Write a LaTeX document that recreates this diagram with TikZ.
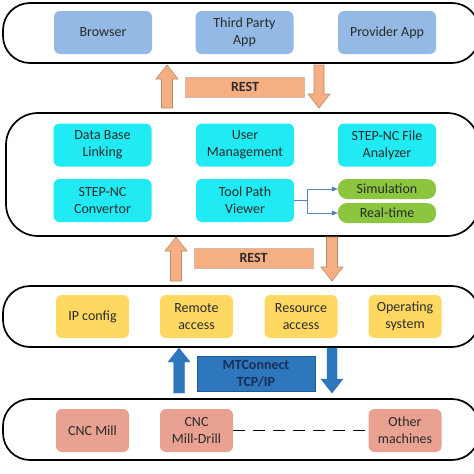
\documentclass[tikz,border=0pt]{standalone}
\usepackage{fontspec}
\setmainfont{Carlito}
\usepackage{tikz}
\usetikzlibrary{arrows.meta}

\definecolor{appblue}{HTML}{93B9E4}
\definecolor{srvcyan}{HTML}{20EAF3}
\definecolor{viewgreen}{HTML}{8CC63F}
\definecolor{ctlyellow}{HTML}{FFD862}
\definecolor{machsalmon}{HTML}{E9A191}
\definecolor{restorange}{HTML}{F5AF82}
\definecolor{restedge}{HTML}{B98A6E}
\definecolor{mtcblue}{HTML}{2E77BD}
\definecolor{mtcedge}{HTML}{1F5A94}
\definecolor{mtctext}{HTML}{1A2E55}
\definecolor{txt}{HTML}{2B2B2B}
\definecolor{linkblue}{HTML}{5B82BA}

\begin{document}
\begin{tikzpicture}
[x=1pt,y=-1pt,font=\fontsize{14}{17}\selectfont,text=txt]
\tikzset{layer/.style={draw=black,line width=1.7pt},
  box/.style={rounded corners=6pt,align=center,inner sep=0pt,minimum width=98pt,minimum height=43pt},
  appbox/.style={box,fill=appblue},
  srvbox/.style={box,fill=srvcyan},
  viewbox/.style={box,fill=viewgreen,rounded corners=9pt,minimum height=20pt},
  ctlbox/.style={box,fill=ctlyellow,minimum width=73pt},
  machbox/.style={box,fill=machsalmon,minimum width=73pt},
  restbox/.style={fill=restorange,draw=restedge!60,line width=.4pt,inner sep=0pt,minimum width=119pt,minimum height=20pt,font=\fontsize{14}{17}\selectfont\bfseries},
  mtcbox/.style={fill=mtcblue,draw=mtcedge,line width=.4pt,inner sep=0pt,align=center,minimum width=118pt,minimum height=35pt,text=mtctext,font=\fontsize{14}{17}\selectfont\bfseries},
  orablock/.style={fill=restorange,draw=restedge,line width=.6pt},
  mtcblock/.style={fill=mtcblue,draw=mtcblue}}

\useasboundingbox (0,0) rectangle (474,474);
\clip (0,0) rectangle (474,474);

% layers
\foreach \l/\t/\b/\r in {3/3/63/27,6/113/236/32,3/286/347/27,3/399/460/27}
  \draw [layer] (\l+\r,\t) -- (479-\r,\t) arc (270:360:\r) -- (479,\b-\r) arc (0:90:\r)
    -- (\l+\r,\b) arc (90:180:\r) -- (\l,\t+\r) arc (180:270:\r) -- cycle;

% clients
\node [appbox] (browser) at (103,32.5) {Browser};
\node [appbox] (third) at (244.5,32.5) {Third Party\\App};
\node [appbox] (provider) at (387,32.5) {Provider App};

% server
\node [srvbox] (dblink) at (102.5,145) {Data Base\\Linking};
\node [srvbox] (usermgmt) at (245,145) {User\\Management};
\node [srvbox] (analyzer) at (387,145) {STEP-NC File\\Analyzer};
\node [srvbox] (convertor) at (102.5,200.5) {STEP-NC\\Convertor};
\node [srvbox] (viewer) at (245,200.5) {Tool Path\\Viewer};
\node [viewbox] (sim) at (387,189) {Simulation};
\node [viewbox] (realtime) at (387,213) {Real-time};

% controller
\node [ctlbox] (ipcfg) at (92.5,316.5) {IP config};
\node [ctlbox] (remote) at (196.5,316.5) {Remote\\access};
\node [ctlbox] (resource) at (301,316.5) {Resource\\access};
\node [ctlbox] (os) at (405,316.5) {Operating\\system};

% machines
\node [machbox] (mill) at (92.5,430.5) {CNC Mill};
\node [machbox] (milldrill) at (196.5,430.5) {CNC\\Mill-Drill};
\node [machbox] (other) at (405,430.5) {Other\\machines};

% protocols
\node [restbox] (rest1) at (245,87) {REST};
\node [restbox] (rest2) at (253.5,258) {REST};
\node [mtcbox] (mtc) at (256,373.5) {MTConnect\\TCP/IP};

% block arrows
\foreach \x/\ya/\yb/\w/\c in {167/108/65/5.5/orablock,319/65/108/5/orablock,
  176/281/237/5.5/orablock,332/237/281/5.5/orablock,
  179/393/348/5.5/mtcblock,332/348/393/5/mtcblock}
{
  \pgfmathsetmacro\yh{\yb-14*sign(\yb-\ya)}
  \draw [\c] (\x-\w,\ya) -- (\x-\w,\yh) -- (\x-11,\yh) -- (\x,\yb)
    -- (\x+11,\yh) -- (\x+\w,\yh) -- (\x+\w,\ya) -- cycle;
}

% links
\draw [linkblue,line width=.8pt] (viewer.east) -- ++(13,0) coordinate (fork);
\foreach \t in {sim,realtime}
  \draw [linkblue,line width=.8pt,-{Triangle[length=6pt,width=5pt]}] (fork) |- (\t.west);
\draw [line width=1pt,dash pattern=on 12pt off 8pt] (milldrill.east) -- (other.west);

\end{tikzpicture}
\end{document}
